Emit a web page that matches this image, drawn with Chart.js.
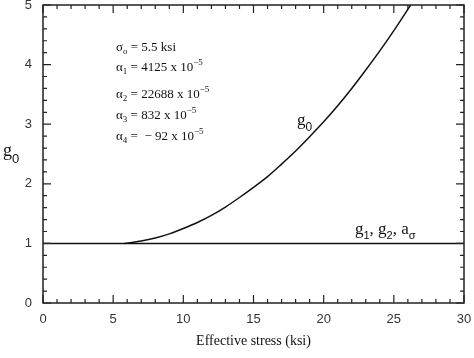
<!DOCTYPE html>
<html>
<head>
<meta charset="utf-8">
<script src="https://cdn.jsdelivr.net/npm/chart.js@4.4.1/dist/chart.umd.min.js"></script>
<style>
  html, body { margin: 0; padding: 0; background: #fff; }
  #wrap { width: 474px; height: 358px; }
</style>
</head>
<body>
<div id="wrap"><canvas id="c" width="474" height="358"></canvas></div>
<script>
// values
const stress = [5.8, 7, 8, 9, 10, 11, 12, 13, 14, 15, 16, 17, 18, 19, 20, 21, 22, 23, 24, 25, 26.2];
const g0 = [1.0, 1.04, 1.09, 1.16, 1.25, 1.35, 1.47, 1.61, 1.77, 1.94, 2.12, 2.33, 2.55, 2.79, 3.04, 3.31, 3.60, 3.91, 4.23, 4.57, 5.0];
const flatStress = [0, 30];
const flatG = [1, 1];
const xTicks = [0, 5, 10, 15, 20, 25, 30];
const yTicks = [0, 1, 2, 3, 4, 5];

const SERIF = '"Liberation Serif", "Times New Roman", serif';
const SANS = '"Liberation Sans", Arial, sans-serif';

function toPoints(xs, ys) {
  return xs.map((x, i) => ({ x: x, y: ys[i] }));
}

// draw a run of text pieces: [text, dy, font]
function rich(ctx, x, y, parts) {
  ctx.textBaseline = 'alphabetic';
  ctx.textAlign = 'left';
  parts.forEach(p => {
    ctx.font = p[2];
    ctx.fillText(p[0], x, y + p[1]);
    x += ctx.measureText(p[0]).width;
  });
}

const decorations = {
  id: 'decorations',
  afterDraw(chart) {
    const ctx = chart.ctx;
    const a = chart.chartArea;
    const xs = chart.scales.x, ys = chart.scales.y;
    ctx.save();
    ctx.strokeStyle = '#222';
    ctx.lineWidth = 1.5;
    ctx.strokeRect(a.left, a.top, a.right - a.left, a.bottom - a.top);

    // inward ticks on all four sides
    ctx.lineWidth = 1.2;
    ctx.beginPath();
    for (let v = 0; v <= 30; v++) {
      const px = xs.getPixelForValue(v);
      const len = v % 5 === 0 ? 8 : 4;
      ctx.moveTo(px, a.bottom); ctx.lineTo(px, a.bottom - len);
      ctx.moveTo(px, a.top); ctx.lineTo(px, a.top + len);
    }
    for (let k = 0; k <= 25; k++) {
      const py = ys.getPixelForValue(k / 5);
      const len = k % 5 === 0 ? 8 : 4;
      ctx.moveTo(a.left, py); ctx.lineTo(a.left + len, py);
      ctx.moveTo(a.right, py); ctx.lineTo(a.right - len, py);
    }
    ctx.stroke();

    ctx.fillStyle = '#111';
    const f = '13px ' + SERIF, fs = '9px ' + SERIF;
    const x0 = 116;
    rich(ctx, x0, 51, [['σ', 0, f], ['o', 3, fs], [' = 5.5 ksi', 0, f]]);
    rich(ctx, x0, 71, [['α', 0, f], ['1', 3, fs], [' = 4125 x 10', 0, f], ['−5', -6, fs]]);
    rich(ctx, x0, 98, [['α', 0, f], ['2', 3, fs], [' = 22688 x 10', 0, f], ['−5', -6, fs]]);
    rich(ctx, x0, 119, [['α', 0, f], ['3', 3, fs], [' = 832 x 10', 0, f], ['−5', -6, fs]]);
    rich(ctx, x0, 140, [['α', 0, f], ['4', 3, fs], [' =  − 92 x 10', 0, f], ['−5', -6, fs]]);

    const gf = '17px ' + SERIF, gs = '11px ' + SANS;
    rich(ctx, 297, 125, [['g', 0, gf], ['0', 6, '12px ' + SANS]]);
    rich(ctx, 355, 234, [['g', 0, gf], ['1', 5, gs], [', ', 0, gf], ['g', 0, gf], ['2', 5, gs],
      [', ', 0, gf], ['a', 0, gf], ['σ', 5, gs]]);
    rich(ctx, 3, 156, [['g', 0, '18px ' + SERIF], ['0', 7, '13px ' + SANS]]);
    ctx.restore();
  }
};

new Chart(document.getElementById('c'), {
  type: 'scatter',
  data: {
    datasets: [
      {
        data: toPoints(stress, g0),
        showLine: true,
        borderColor: '#111',
        borderWidth: 1.5,
        pointRadius: 0,
        cubicInterpolationMode: 'monotone'
      },
      {
        data: toPoints(flatStress, flatG),
        showLine: true,
        borderColor: '#111',
        borderWidth: 1.5,
        pointRadius: 0
      }
    ]
  },
  options: {
    responsive: false,
    animation: false,
    layout: { padding: { top: 5, right: 10, left: 0, bottom: 0 } },
    plugins: { legend: { display: false }, tooltip: { enabled: false } },
    scales: {
      x: {
        type: 'linear',
        min: 0, max: 30,
        afterBuildTicks: s => { s.ticks = xTicks.map(v => ({ value: v })); },
        afterFit: s => { s.height = 55; s.paddingLeft = 0; s.paddingRight = 0; },
        grid: { display: false, drawTicks: false },
        border: { display: false },
        ticks: { padding: 9, color: '#333', font: { family: SANS, size: 13 }, maxRotation: 0 },
        title: {
          display: true,
          text: 'Effective stress (ksi)',
          color: '#111',
          font: { family: SERIF, size: 14 },
          padding: { top: 0, bottom: 8 }
        }
      },
      y: {
        type: 'linear',
        min: 0, max: 5,
        afterBuildTicks: s => { s.ticks = yTicks.map(v => ({ value: v })); },
        afterFit: s => { s.width = 43; s.paddingTop = 0; s.paddingBottom = 0; },
        grid: { display: false, drawTicks: false },
        border: { display: false },
        ticks: { padding: 11, color: '#333', font: { family: SANS, size: 13 } }
      }
    }
  },
  plugins: [decorations]
});
</script>
</body>
</html>
